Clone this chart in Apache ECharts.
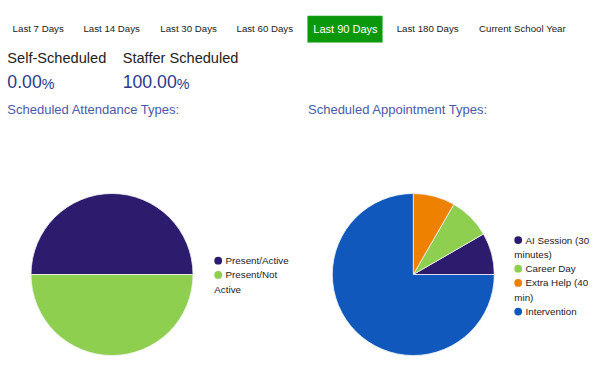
<!DOCTYPE html>
<html><head><meta charset="utf-8">
<script src="https://cdn.jsdelivr.net/npm/echarts@6/dist/echarts.min.js"></script>
<style>html,body{margin:0;padding:0;background:#fff}#c{width:600px;height:367px}</style>
</head><body><div id="c"></div>
<script>
// ---- data ----
const rangeButtons = ['Last 7 Days', 'Last 14 Days', 'Last 30 Days', 'Last 60 Days', 'Last 90 Days', 'Last 180 Days', 'Current School Year'];
const activeRange = 'Last 90 Days';
const scheduleLabels = ['Self-Scheduled', 'Staffer Scheduled'];
const schedulePercents = [0.00, 100.00];
const attendanceTitle = 'Scheduled Attendance Types:';
const attendanceTypes = ['Present/Active', 'Present/Not Active'];
const attendanceCounts = [1, 1];
const appointmentTitle = 'Scheduled Appointment Types:';
const appointmentTypes = ['AI Session (30 minutes)', 'Career Day', 'Extra Help (40 min)', 'Intervention'];
const appointmentCounts = [1, 1, 1, 9];

// ---- styling / layout ----
const FONT = '"Liberation Sans", Arial, Helvetica, sans-serif';
const attendanceColors = ['#2d1b6e', '#8ecf4f'];
const appointmentColors = ['#2d1b6e', '#8ecf4f', '#ee8100', '#1058bb'];
const buttonX = [12.6, 83.4, 160.3, 236.5, 313.3, 396.7, 479];
const scheduleX = [7.3, 122.7];
const legendWrap = {
  'Present/Not Active': ['Present/Not', 'Active'],
  'AI Session (30 minutes)': ['AI Session (30', 'minutes)'],
  'Extra Help (40 min)': ['Extra Help (40', 'min)']
};

const chart = echarts.init(document.getElementById('c'), null, {renderer: 'svg'});

const graphics = [];
rangeButtons.forEach((label, i) => {
  const active = label === activeRange;
  if (active) {
    graphics.push({type: 'rect', shape: {x: 307.7, y: 16, width: 74.6, height: 26.3},
      style: {fill: '#0c980c', stroke: '#2aa82a', lineWidth: 0.6}, silent: true});
  }
  graphics.push({type: 'text', x: buttonX[i], y: active ? 29.2 : 28.3, silent: true,
    style: {text: label, font: (active ? '11px ' : '9.7px ') + FONT,
      fill: active ? '#ffffff' : '#222222', verticalAlign: 'middle', align: 'left'}});
});
scheduleLabels.forEach((label, i) => {
  graphics.push({type: 'text', x: scheduleX[i], y: 58.3, silent: true,
    style: {text: label, font: '14.6px ' + FONT, fill: '#222222', verticalAlign: 'middle'}});
  graphics.push({type: 'text', x: scheduleX[i], y: 82.3, silent: true,
    style: {text: '{n|' + schedulePercents[i].toFixed(2) + '}{p|%}', verticalAlign: 'middle',
      rich: {
        n: {fontSize: 17.7, fontFamily: FONT, fill: '#2c3a8c', color: '#2c3a8c', verticalAlign: 'bottom'},
        p: {fontSize: 14.3, fontFamily: FONT, fill: '#2c3a8c', color: '#2c3a8c', verticalAlign: 'bottom'}
      }}});
});
[[attendanceTitle, 7.3], [appointmentTitle, 308]].forEach(([t, x]) => {
  graphics.push({type: 'text', x: x, y: 109.3, silent: true,
    style: {text: t, font: '13px ' + FONT, fill: '#4b5aa8', verticalAlign: 'middle'}});
});

function makeLegend(names, colors, left, top) {
  const rich = {
    g: {width: 3.4, fontSize: 9.8, lineHeight: 14.3},
    t: {fontSize: 9.8, fontFamily: FONT, color: '#222222', lineHeight: 14.3}
  };
  colors.forEach((c, i) => {
    rich['d' + i] = {width: 7.8, height: 7.8, borderRadius: 3.9, backgroundColor: c,
      verticalAlign: 'middle', lineHeight: 14.3, fontSize: 9.8};
  });
  return {
    orient: 'vertical', left: left, top: top, padding: 0, itemGap: 0,
    icon: 'none', itemWidth: 0, itemHeight: 0, selectedMode: false,
    data: names,
    textStyle: {fontSize: 9.8, fontFamily: FONT, color: '#222222', lineHeight: 14.3, rich: rich},
    formatter: function (name) {
      const i = names.indexOf(name);
      const lines = legendWrap[name] || [name];
      return '{d' + i + '| }{g| }{t|' + lines[0] + '}' +
        lines.slice(1).map(l => '\n{t|' + l + '}').join('');
    }
  };
}

function makePie(names, values, colors, cx) {
  return {
    type: 'pie', center: [cx, 274.5], radius: 81, startAngle: 0, clockwise: false,
    label: {show: false}, labelLine: {show: false}, silent: true,
    emphasis: {disabled: true}, animation: false,
    itemStyle: {borderColor: '#f2f2f2', borderWidth: 0.8},
    data: names.map((n, i) => ({name: n, value: values[i], itemStyle: {color: colors[i]}}))
  };
}

chart.setOption({
  animation: false,
  textStyle: {fontFamily: FONT},
  graphic: graphics,
  legend: [
    makeLegend(attendanceTypes, attendanceColors, 209.3, 253.5),
    makeLegend(appointmentTypes, appointmentColors, 509.3, 232.9)
  ],
  series: [
    makePie(attendanceTypes, attendanceCounts, attendanceColors, 112),
    makePie(appointmentTypes, appointmentCounts, appointmentColors, 413.3)
  ]
});
</script>
</body></html>
